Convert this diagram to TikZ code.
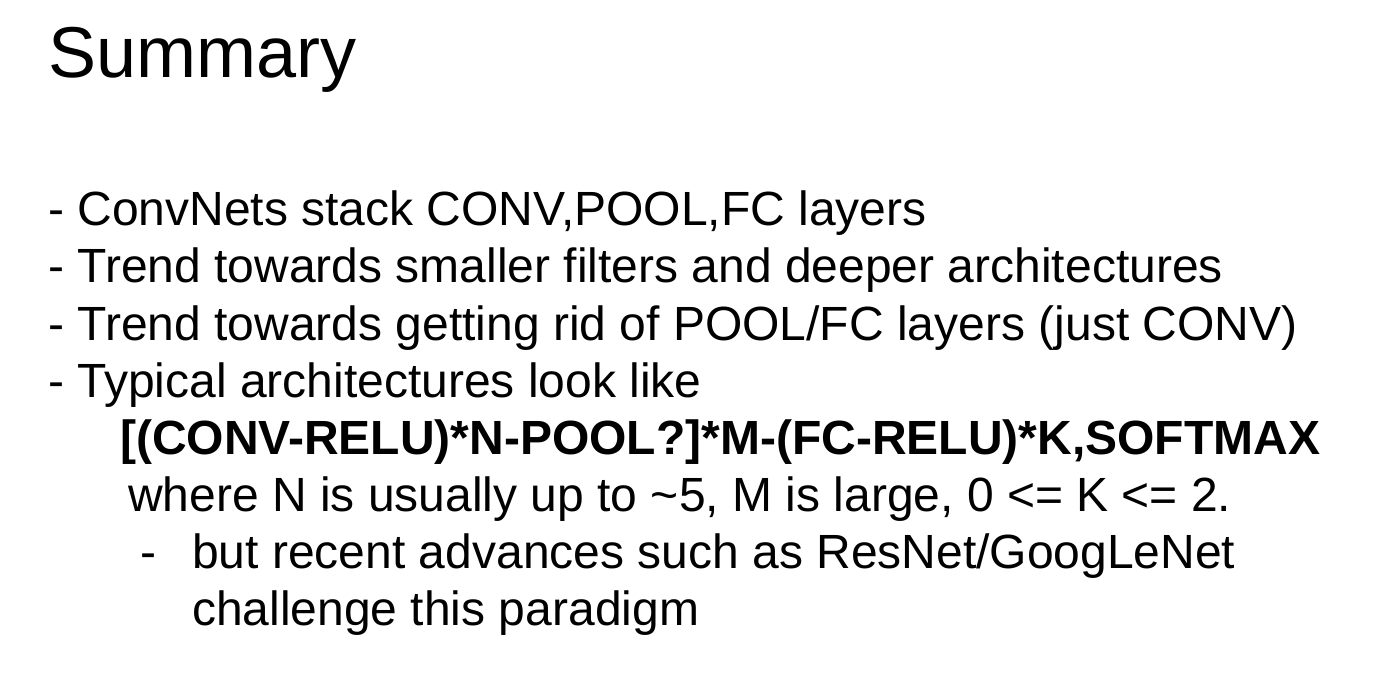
\documentclass[tikz,border=0pt]{standalone}
\usepackage{fontspec}
\setmainfont{Liberation Sans}
\begin{document}
\begin{tikzpicture}[x=1pt,y=-1pt,
  txt/.style={anchor=base west,inner sep=0pt,font=\fontsize{48}{48}\selectfont}]
\useasboundingbox (0,0) rectangle (1378,676);
\node[anchor=base west,inner sep=0pt,font=\fontsize{72}{72}\selectfont] (title) at (48,78) {Summary};
\node[txt] (l1) at (48,226) {- ConvNets stack CONV,POOL,FC layers};
\node[txt] (l2) at (48,283) {- Trend towards smaller filters and deeper architectures};
\node[txt] (l3) at (48,340) {- Trend towards getting rid of POOL/FC layers (just CONV)};
\node[txt] (l4) at (48,397) {- Typical architectures look like};
\node[txt,font=\fontsize{48}{48}\selectfont\bfseries] (l5) at (120,454) {[(CONV-RELU)*N-POOL?]*M-(FC-RELU)*K,SOFTMAX};
\node[txt] (l6) at (128,511) {where N is usually up to \textasciitilde5, M is large, 0 <= K <= 2.};
\node[txt] (d7) at (140,568) {-};
\node[txt] (l7) at (192,568) {but recent advances such as ResNet/GoogLeNet};
\node[txt] (l8) at (192,625) {challenge this paradigm};
\end{tikzpicture}
\end{document}
